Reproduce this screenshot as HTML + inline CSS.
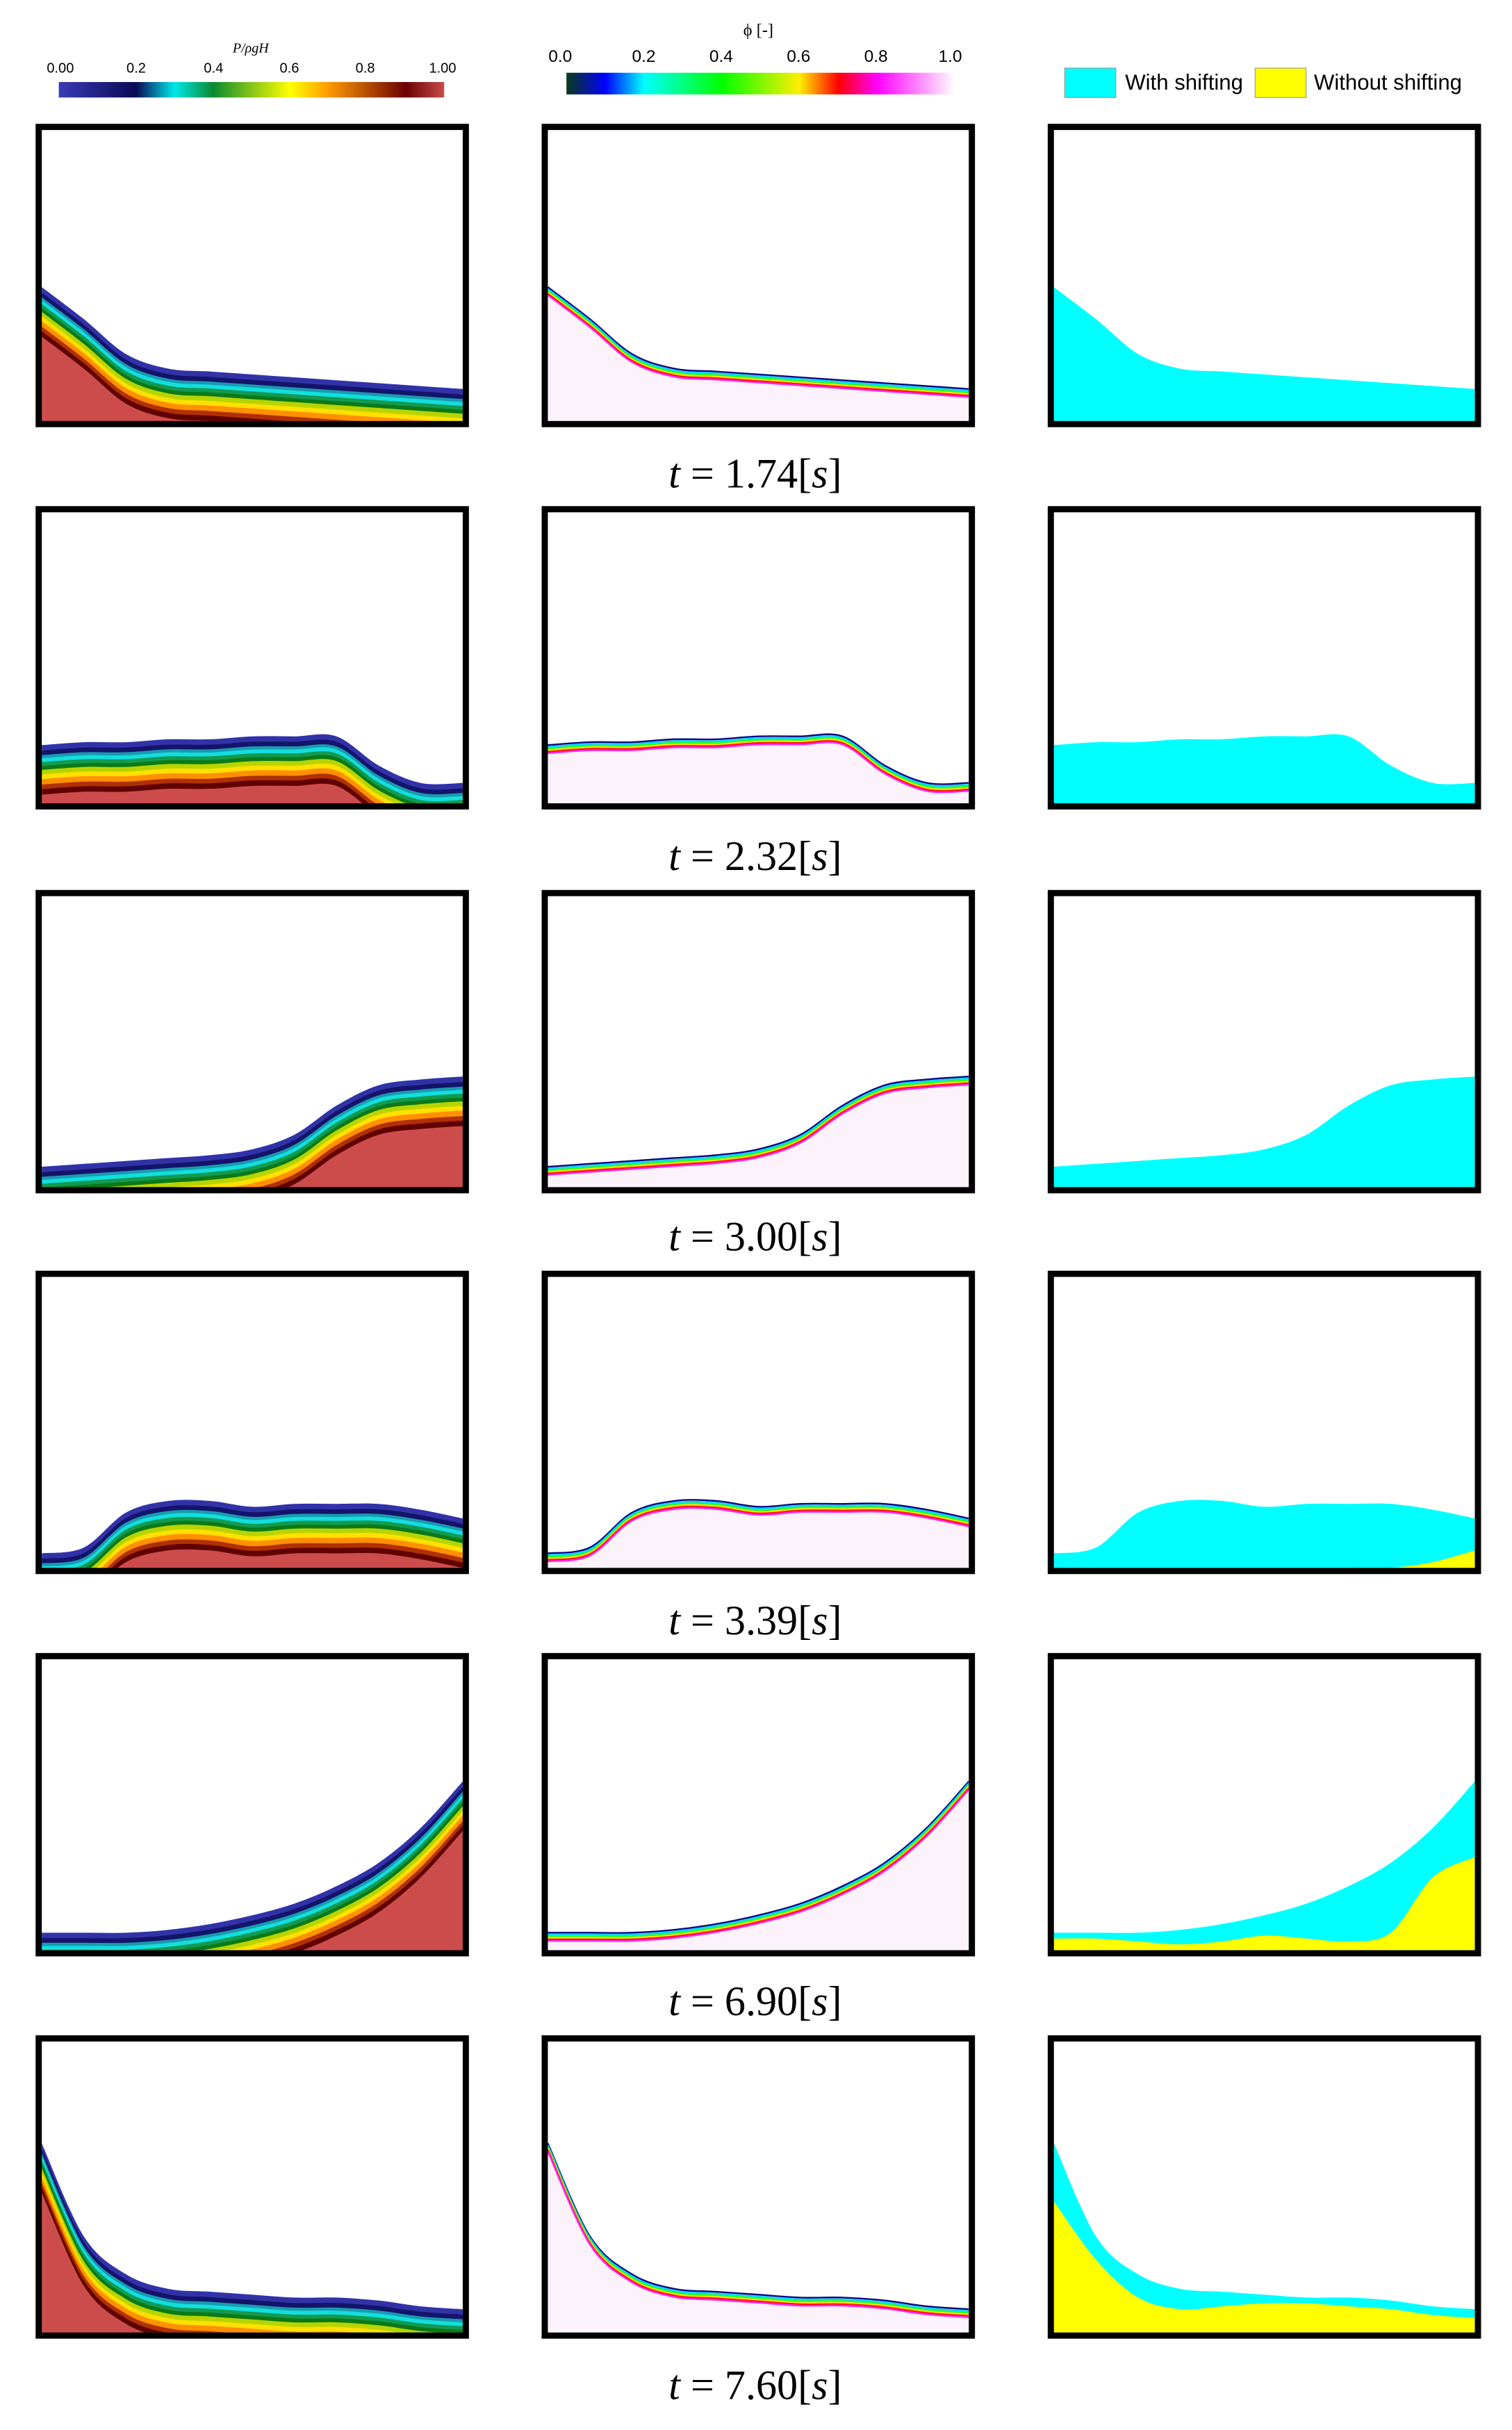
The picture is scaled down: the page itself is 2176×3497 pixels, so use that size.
<!DOCTYPE html>
<html><head><meta charset="utf-8"><style>
html,body{margin:0;padding:0;background:#fff;}
svg{display:block;}
</style></head><body>
<svg id="fig" xmlns="http://www.w3.org/2000/svg" width="2176" height="3497" viewBox="0 0 977 1570" preserveAspectRatio="none">
<defs>
<linearGradient id="gp" x1="0" x2="1" y1="0" y2="0">
<stop offset="0" stop-color="#3a3ab8"/><stop offset="0.2" stop-color="#0a0a55"/><stop offset="0.3" stop-color="#00e8e8"/><stop offset="0.4" stop-color="#0a8a30"/><stop offset="0.6" stop-color="#ffff00"/><stop offset="0.7" stop-color="#ff9900"/><stop offset="0.9" stop-color="#6a0000"/><stop offset="1" stop-color="#c84a4a"/>
</linearGradient>
<linearGradient id="gphi" x1="0" x2="1" y1="0" y2="0">
<stop offset="0" stop-color="#0a3a1a"/><stop offset="0.1" stop-color="#0000ff"/><stop offset="0.2" stop-color="#00ffff"/><stop offset="0.4" stop-color="#00ff00"/><stop offset="0.6" stop-color="#ffee00"/><stop offset="0.7" stop-color="#ff0000"/><stop offset="0.8" stop-color="#ff00ff"/><stop offset="1" stop-color="#ffffff"/>
</linearGradient>
</defs>
<g>
<text x="162" y="34" font-family="Liberation Serif, serif" font-style="italic" font-size="9" text-anchor="middle">P/ρgH</text>
<rect x="38" y="53" width="249" height="10" fill="url(#gp)"/>
<g font-family="Liberation Sans, sans-serif" font-size="9" text-anchor="middle">
<text x="39" y="47">0.00</text><text x="88" y="47">0.2</text><text x="138" y="47">0.4</text><text x="187" y="47">0.6</text><text x="236" y="47">0.8</text><text x="286" y="47">1.00</text></g>
</g>
<g>
<text x="490" y="23" font-family="Liberation Serif, serif" font-size="11" text-anchor="middle">ϕ [-]</text>
<rect x="366" y="47" width="251" height="14" fill="url(#gphi)"/>
<g font-family="Liberation Sans, sans-serif" font-size="11" text-anchor="middle">
<text x="362" y="40">0.0</text><text x="416" y="40">0.2</text><text x="466" y="40">0.4</text><text x="516" y="40">0.6</text><text x="566" y="40">0.8</text><text x="614" y="40">1.0</text></g>
</g>
<g font-family="Liberation Sans, sans-serif" font-size="14">
<rect x="688" y="44" width="33" height="19" fill="#00ffff" stroke="#8aa" stroke-width="0.6"/>
<text x="727" y="58">With shifting</text>
<rect x="811" y="44" width="33" height="19" fill="#ffff00" stroke="#aa8" stroke-width="0.6"/>
<text x="849" y="58">Without shifting</text>
</g>
<g id="panels"></g>
</svg>
<script>
// Snapshot times
const times = ["1.74","2.32","3.00","3.39","6.90","7.60"];
// Free-surface height (fraction of tank height) at 11 equally spaced x stations
const surf174 = [0.46,0.35,0.23,0.18,0.17,0.16,0.15,0.14,0.13,0.12,0.11];
const surf232 = [0.20,0.21,0.21,0.22,0.22,0.23,0.23,0.23,0.13,0.07,0.07];
const surf300 = [0.07,0.08,0.09,0.10,0.11,0.13,0.18,0.28,0.35,0.37,0.38];
const surf339 = [0.05,0.07,0.19,0.23,0.23,0.21,0.22,0.22,0.22,0.20,0.17];
const surf690 = [0.06,0.06,0.06,0.07,0.09,0.12,0.16,0.22,0.30,0.42,0.58];
const surf760 = [0.65,0.33,0.20,0.15,0.14,0.13,0.12,0.12,0.11,0.09,0.08];
// Height of the "without shifting" (yellow) region, same stations
const yel174 = [0,0,0,0,0,0,0,0,0,0,0];
const yel232 = [0,0,0,0,0,0,0,0,0,0,0];
const yel300 = [0,0,0,0,0,0,0,0,0,0,0];
const yel339 = [0,0,0,0,0,0,0,0,0,0.02,0.06];
const yel690 = [0.04,0.04,0.03,0.02,0.03,0.05,0.04,0.03,0.06,0.25,0.32];
const yel760 = [0.45,0.25,0.12,0.08,0.09,0.10,0.10,0.09,0.08,0.06,0.05];
const surfaces = [surf174,surf232,surf300,surf339,surf690,surf760];
const yellows = [yel174,yel232,yel300,yel339,yel690,yel760];

const NS="http://www.w3.org/2000/svg";
const root=document.getElementById('panels');
const colX=[23,350,677], panelW=280, panelH=196;
const rowY=[80,327,575,821,1068,1315];
const labelY=[315,562,808,1056,1302,1550];
const pBands=["#3232a8","#14146a","#1a9ab0","#12dede","#129a50","#0a7a18","#b8d400","#ffe000","#ff9000","#b03000","#600000","#cc4c4c"];
const pOff=[0,3.5,6.5,8.5,11,13.5,16,19,22,25.5,28.5,32];
const phiLines=[["#0a0a80",0],["#00d8ff",1.2],["#20ff20",2.3],["#ffe000",3.3],["#ff1010",4.3],["#ff20ff",5.2]];

function mk(tag,attrs,parent){const e=document.createElementNS(NS,tag);for(const k in attrs)e.setAttribute(k,attrs[k]);parent.appendChild(e);return e;}
function xs(ix,x0,w){return x0+w*ix/10;}
function pts(arr,x0,y0b,w,h,off){return arr.map((v,i)=>[xs(i,x0,w),y0b-v*h+off]);}
function pathD(p){let d="M"+p[0][0]+","+p[0][1];for(let i=0;i<p.length-1;i++){const a=p[Math.max(i-1,0)],b=p[i],c=p[i+1],e=p[Math.min(i+2,p.length-1)];d+=" C"+(b[0]+(c[0]-a[0])/6)+","+(b[1]+(c[1]-a[1])/6)+" "+(c[0]-(e[0]-b[0])/6)+","+(c[1]-(e[1]-b[1])/6)+" "+c[0]+","+c[1];}return d;}

rowY.forEach((y,r)=>{
  const s=surfaces[r], yl=yellows[r];
  colX.forEach((x,c)=>{
    const g=mk('g',{},root);
    
    
    const ix=x+4, iy=y+4, iw=panelW-8, ih=panelH-8, yb=iy+ih;
    const cid='clip'+r+'_'+c;
    const cp=mk('clipPath',{id:cid},g); mk('rect',{x:ix,y:iy,width:iw,height:ih},cp);
    const inner=mk('g',{'clip-path':'url(#'+cid+')'},g);
    if(c===0){
      pBands.forEach((col,k)=>{
        const p=pts(s,ix,yb,iw,ih,pOff[k]);
        mk('path',{d:pathD(p)+" L"+(ix+iw)+","+(yb+80)+" L"+ix+","+(yb+80)+" Z",fill:col},inner);
      });
    } else if(c===1){
      const p=pts(s,ix,yb,iw,ih,0);
      mk('path',{d:pathD(p)+" L"+(ix+iw)+","+(yb+5)+" L"+ix+","+(yb+5)+" Z",fill:"#fbf2fb"},inner);
      phiLines.forEach(([col,o])=>{mk('path',{d:pathD(pts(s,ix,yb,iw,ih,o)),fill:"none",stroke:col,"stroke-width":1.1},inner);});
    } else {
      const p=pts(s,ix,yb,iw,ih,0);
      mk('path',{d:pathD(p)+" L"+(ix+iw)+","+(yb+5)+" L"+ix+","+(yb+5)+" Z",fill:"#00ffff"},inner);
      if(yl.some(v=>v>0)){
        const q=pts(yl,ix,yb,iw,ih,0);
        mk('path',{d:pathD(q)+" L"+(ix+iw)+","+(yb+5)+" L"+ix+","+(yb+5)+" Z",fill:"#ffff00"},inner);
      }
    }
    const fr=mk('rect',{x:x+2,y:y+2,width:panelW-4,height:panelH-4,fill:"none",stroke:"#000","stroke-width":4},g);
    
    
  });
  const t=mk('text',{x:488,y:labelY[r],'text-anchor':'middle','font-family':'Liberation Serif, serif','font-size':27},root);
  
  
  t.innerHTML='<tspan font-style="italic">t</tspan> = '+times[r]+'[<tspan font-style="italic">s</tspan>]';
});
</script>
</body></html>
